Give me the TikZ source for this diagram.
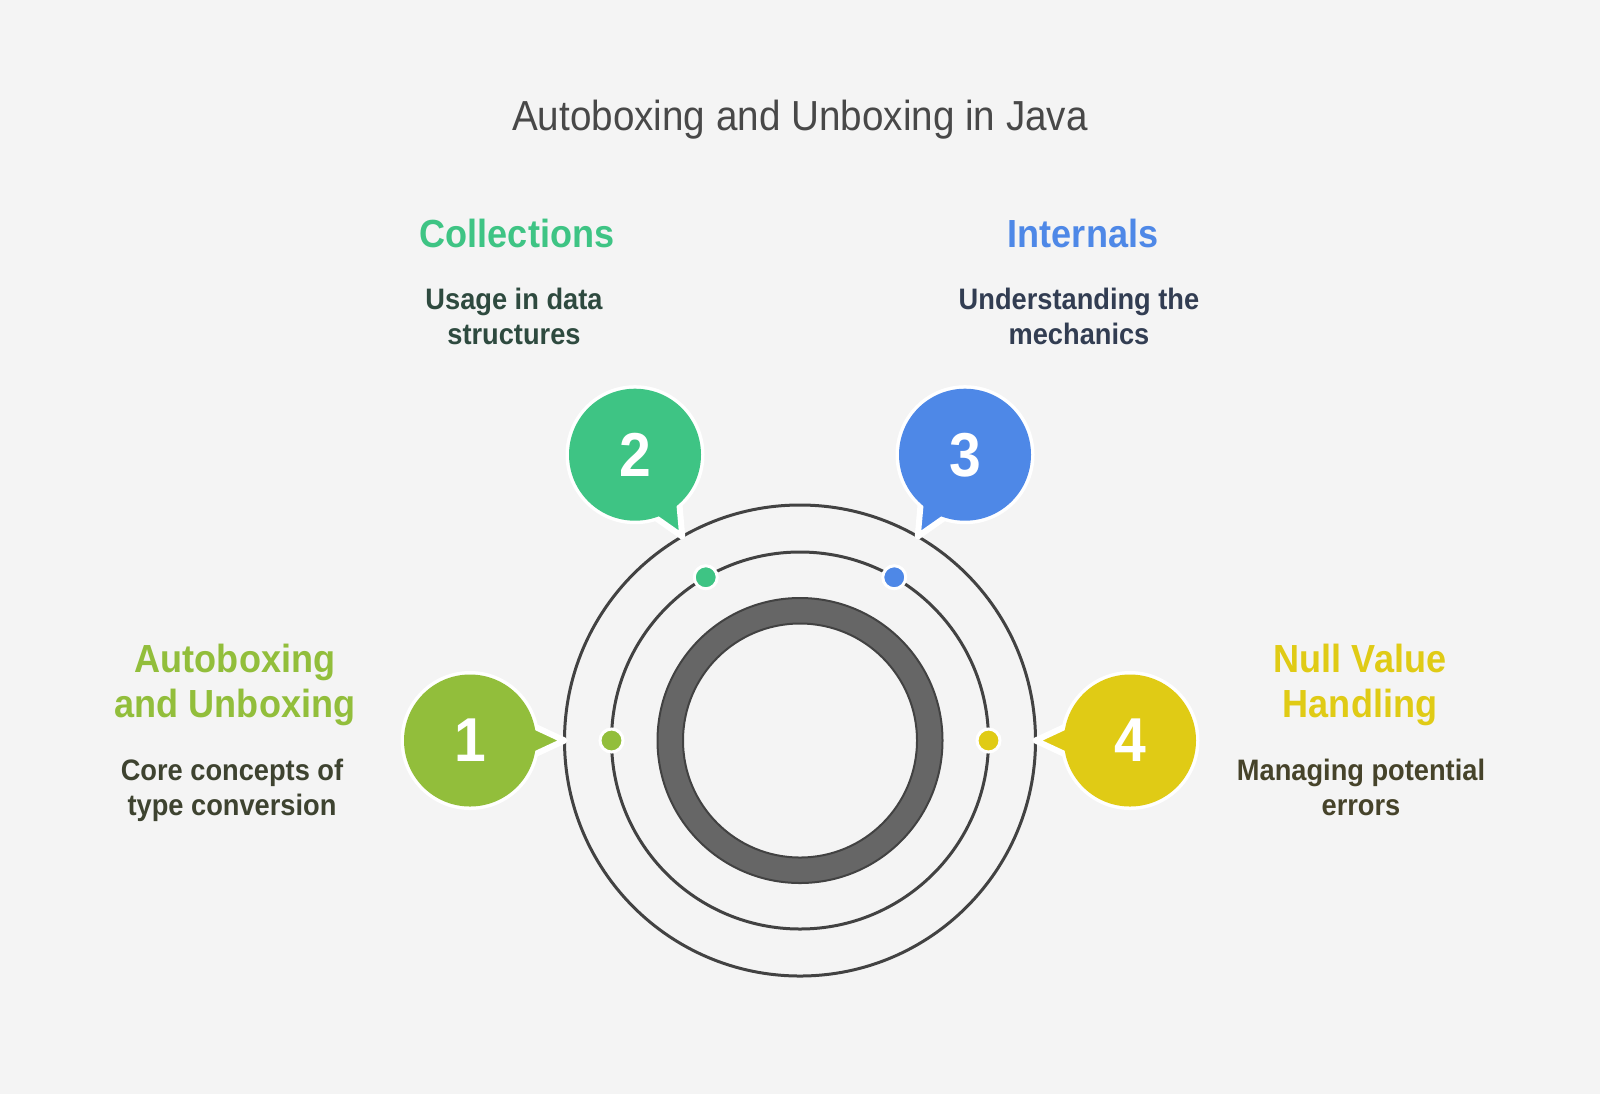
\documentclass[tikz,border=0pt]{standalone}
\usepackage{fontspec}
\setmainfont{Liberation Sans}[FakeStretch=0.92]
\definecolor{bg}{HTML}{F4F4F4}
\definecolor{ringedge}{HTML}{424242}
\definecolor{ringfill}{HTML}{666666}
\definecolor{titlec}{HTML}{484848}
\definecolor{cA}{HTML}{92BE3B}
\definecolor{cB}{HTML}{3EC484}
\definecolor{cC}{HTML}{4E88E7}
\definecolor{cD}{HTML}{E0CB15}
\definecolor{dA}{HTML}{3E4330}
\definecolor{dB}{HTML}{2E4A3F}
\definecolor{dC}{HTML}{323D52}
\definecolor{dD}{HTML}{46432A}
\begin{document}
\begin{tikzpicture}[x=0.5pt,y=-0.5pt,
  orbit/.style={circle, draw=ringedge, line width=1.5pt, inner sep=0pt},
  bubble/.style={circle, inner sep=0pt, minimum size=66pt, text=white,
    font=\fontsize{31}{31}\selectfont\bfseries},
  pointer/.style={draw=white, line width=3pt, line join=round},
  dotnode/.style={circle, inner sep=0pt, minimum size=11.5pt, draw=white, line width=1.5pt},
  head/.style={align=center, font=\fontsize{19.6}{22.5}\selectfont\bfseries},
  desc/.style={align=center, font=\fontsize{14.8}{17.5}\selectfont\bfseries}]
\fill[bg] (0,0) rectangle (1600,1094);
\useasboundingbox (0,0) rectangle (1600,1094);
\coordinate (O) at (800,740.5);
% orbits
\node[orbit, minimum size=235.5pt] (outer) at (O) {};
\node[orbit, minimum size=188.5pt] (middle) at (O) {};
\draw[fill=ringfill, draw=ringedge, line width=1pt, even odd rule]
  (O) circle (142.5) (O) circle (117);
% tips of the pointers
\coordinate (t1) at (564.5,740.5);
\coordinate (t2) at (682.25,536.55);
\coordinate (t3) at (917.75,536.55);
\coordinate (t4) at (1035.5,740.5);
% bubble 1
\fill[white] (470,740.5) circle (69.5);
\filldraw[pointer, fill=cA] (t1) -- (470,696.5) -- (470,784.5) -- cycle;
\node[bubble, fill=cA] (b1) at (470,740.5) {1};
% bubble 2
\fill[white] (635,454.7) circle (69.5);
\filldraw[pointer, fill=cB] (t2) -- (673.1,432.7) -- (596.9,476.7) -- cycle;
\node[bubble, fill=cB] (b2) at (635,454.7) {2};
% bubble 3
\fill[white] (965,454.7) circle (69.5);
\filldraw[pointer, fill=cC] (t3) -- (1003.1,476.7) -- (926.9,432.7) -- cycle;
\node[bubble, fill=cC] (b3) at (965,454.7) {3};
% bubble 4
\fill[white] (1130,740.5) circle (69.5);
\filldraw[pointer, fill=cD] (t4) -- (1130,696.5) -- (1130,784.5) -- cycle;
\node[bubble, fill=cD] (b4) at (1130,740.5) {4};
% dots on the middle orbit
\node[dotnode, fill=cA] (d1) at (611.5,740.5) {};
\node[dotnode, fill=cB] (d2) at (705.75,577.25) {};
\node[dotnode, fill=cC] (d3) at (894.25,577.25) {};
\node[dotnode, fill=cD] (d4) at (988.5,740.5) {};
% texts
\node[font=\fontsize{21}{25}\selectfont, text=titlec] (title) at (800,120) {Autoboxing and Unboxing in Java};
\node[head, text=cB] (h2) at (517,233.5) {Collections};
\node[desc, text=dB] (s2) at (514,316) {Usage in data\\structures};
\node[head, text=cC] (h3) at (1083,233.5) {Internals};
\node[desc, text=dC] (s3) at (1079,316) {Understanding the\\mechanics};
\node[head, text=cA] (h1) at (235,685) {Autoboxing\\and Unboxing};
\node[desc, text=dA] (s1) at (232,790) {Core concepts of\\type conversion};
\node[head, text=cD] (h4) at (1360,685) {Null Value\\Handling};
\node[desc, text=dD] (s4) at (1361,787) {Managing potential\\errors};
\end{tikzpicture}
\end{document}
